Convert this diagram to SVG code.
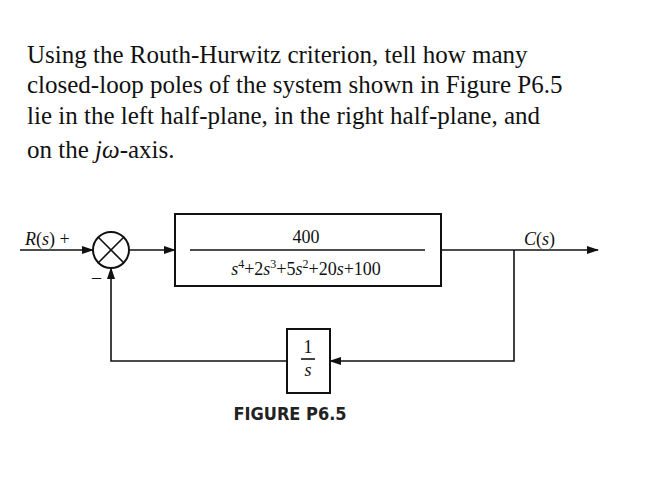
<svg xmlns="http://www.w3.org/2000/svg" width="654" height="480" viewBox="0 0 654 480">
<style>
.t{font-family:"Liberation Serif",serif;font-size:25px;fill:#111}
.d{font-family:"Liberation Serif",serif;font-size:18px;fill:#111}
.ln{stroke:#111;stroke-width:1.6;fill:none}
.bx{stroke:#111;stroke-width:2;fill:#fff}
</style>
<defs><marker id="a" markerWidth="12" markerHeight="8" refX="11" refY="4" orient="auto" markerUnits="userSpaceOnUse"><path d="M0,0L12,4L0,8z" fill="#111"/></marker></defs>
<rect width="654" height="480" fill="#fff"/>
<text class="t" x="27" y="63">Using the Routh-Hurwitz criterion, tell how many</text>
<text class="t" x="27" y="93">closed-loop poles of the system shown in Figure P6.5</text>
<text class="t" x="27" y="124">lie in the left half-plane, in the right half-plane, and</text>
<text class="t" x="27" y="158">on the <tspan font-style="italic">jω</tspan>-axis.</text>
<g id="connectors">
<path class="ln" d="M20,250H93" marker-end="url(#a)"/>
<path class="ln" d="M130,250H175" marker-end="url(#a)"/>
<path class="ln" d="M441,250H598" marker-end="url(#a)"/>
<path class="ln" d="M514,250V361H330" marker-end="url(#a)"/>
<path class="ln" d="M287,361H111V268" marker-end="url(#a)"/>
</g>
<g id="sum"><circle cx="111" cy="250" r="18" class="bx" stroke-width="1.6"/><path class="ln" d="M98.3,237.3L123.7,262.7M123.7,237.3L98.3,262.7"/>
<text class="d" font-family="Liberation Serif" x="25" y="245"><tspan font-style="italic">R</tspan>(<tspan font-style="italic">s</tspan>) +</text>
<text class="d" font-family="Liberation Serif" x="92" y="283" font-size="12">–</text></g>
<g id="plant"><rect class="bx" x="175" y="214" width="266" height="72"/>
<text class="d" font-family="Liberation Serif" x="306" y="243" text-anchor="middle">400</text>
<path class="ln" d="M190,250H425" stroke-width="1.2"/>
<text class="d" font-family="Liberation Serif" x="306" y="275" text-anchor="middle"><tspan font-style="italic">s</tspan><tspan font-size="12" dy="-7">4</tspan><tspan dy="7">+2</tspan><tspan font-style="italic">s</tspan><tspan font-size="12" dy="-7">3</tspan><tspan dy="7">+5</tspan><tspan font-style="italic">s</tspan><tspan font-size="12" dy="-7">2</tspan><tspan dy="7">+20</tspan><tspan font-style="italic">s</tspan>+100</text></g>
<text class="d" font-family="Liberation Serif" x="524" y="245"><tspan font-style="italic">C</tspan>(<tspan font-style="italic">s</tspan>)</text>
<g id="fb"><rect class="bx" x="287" y="329" width="43" height="64"/>
<text class="d" font-family="Liberation Serif" x="308" y="353" text-anchor="middle">1</text>
<path class="ln" d="M301,359H315" stroke-width="1.2"/>
<text class="d" font-family="Liberation Serif" x="308" y="376" text-anchor="middle" font-style="italic">s</text></g>
<text x="290" y="420" text-anchor="middle" font-family="'DejaVu Sans Condensed','Liberation Sans Narrow',sans-serif" font-weight="bold" font-size="18" fill="#222">FIGURE P6.5</text>
</svg>
